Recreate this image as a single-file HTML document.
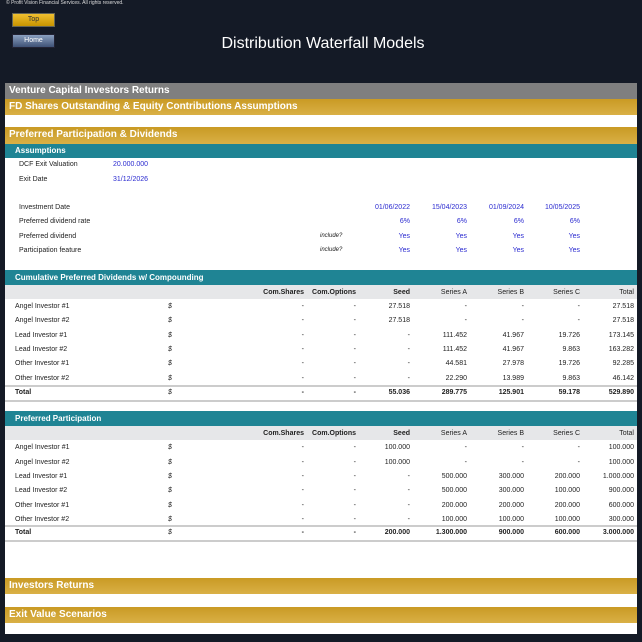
<!DOCTYPE html>
<html><head><meta charset="utf-8"><style>
*{margin:0;padding:0;box-sizing:border-box}
body{width:642px;height:642px;background:#141a26;font-family:"Liberation Sans",sans-serif;position:relative;overflow:hidden}
.a{position:absolute;white-space:nowrap}
.panel{position:absolute;left:5px;top:83px;width:632px;height:551px;background:#fff}
.bar{position:absolute;left:5px;width:632px;color:#fff;font-weight:bold;padding-left:4px}
.gold{background:linear-gradient(#c99a24,#d9b046);font-size:10px;line-height:16px}
.teal{background:#1f8494;font-size:8px;padding-left:10px}
.t{font-size:7px;color:#222}
.b{color:#2a2ad0}
.r{text-align:right;width:60px}
.hdr{position:absolute;left:5px;width:632px;background:#e6e7e9}
</style></head><body>
<div class="a" style="left:6px;top:0;font-size:5px;color:#ddd">© Profit Vision Financial Services. All rights reserved.</div>
<div class="a" style="left:12px;top:13px;width:43px;height:14px;background:linear-gradient(#f0c030,#c89400);border:1px solid #665;color:#333;font-size:7px;text-align:center;line-height:12px">Top</div>
<div class="a" style="left:12px;top:34px;width:43px;height:14px;background:linear-gradient(#8aa0c0,#3f5276);border:1px solid #223;color:#fff;font-size:7px;text-align:center;line-height:12px">Home</div>
<div class="a" style="left:0;width:646px;top:35px;text-align:center;color:#fff;font-size:16px">Distribution Waterfall Models</div>
<div class="panel"></div>
<div class="bar" style="top:83px;height:16px;background:#7f7f7f;font-size:10px;line-height:16px">Venture Capital Investors Returns</div>
<div class="bar gold" style="top:99px;height:16px">FD Shares Outstanding &amp; Equity Contributions Assumptions</div>
<div class="bar gold" style="top:127px;height:17px">Preferred Participation &amp; Dividends</div>
<div class="bar teal" style="top:144px;height:14px;line-height:14px">Assumptions</div>
<div class="a t" style="left:19px;top:161px">DCF Exit Valuation</div><div class="a t b" style="left:113px;top:161px">20.000.000</div>
<div class="a t" style="left:19px;top:176px">Exit Date</div><div class="a t b" style="left:113px;top:176px">31/12/2026</div>
<div class="a t" style="left:19px;top:204px">Investment Date</div>
<div class="a t" style="left:19px;top:218px">Preferred dividend rate</div>
<div class="a t" style="left:19px;top:233px">Preferred dividend</div>
<div class="a t" style="left:19px;top:247px">Participation feature</div>
<div class="a t" style="left:320px;top:233px;font-style:italic;font-size:6px">include?</div>
<div class="a t" style="left:320px;top:247px;font-style:italic;font-size:6px">include?</div>
<div class="bar teal" style="top:270px;height:15px;line-height:15px">Cumulative Preferred Dividends w/ Compounding</div>
<div class="hdr" style="top:285px;height:14px"></div>
<div class="bar teal" style="top:411px;height:15px;line-height:15px">Preferred Participation</div>
<div class="hdr" style="top:426px;height:14px"></div>
<div class="bar gold" style="top:578px;height:16px">Investors Returns</div>
<div class="bar gold" style="top:607px;height:16px">Exit Value Scenarios</div>
<div id="g"></div>
<script>
var h='';
function R(x,y,s,ex){h+='<div class="a t r" style="left:'+(x-60)+'px;top:'+y+'px;'+(ex||'')+'">'+s+'</div>';}
function L(x,y,s,ex){h+='<div class="a t" style="left:'+x+'px;top:'+y+'px;'+(ex||'')+'">'+s+'</div>';}
var dc=[410,467,524,580];
var d=['01/06/2022','15/04/2023','01/09/2024','10/05/2025'];
dc.forEach(function(x,i){R(x,204,d[i],'color:#2a2ad0');R(x,218,'6%','color:#2a2ad0');R(x,233,'Yes','color:#2a2ad0');R(x,247,'Yes','color:#2a2ad0');});
var cols=[304,356,410,467,524,580,634];
var hd=['Com.Shares','Com.Options','Seed','Series A','Series B','Series C','Total'];
function table(hy,ys,rows,ty){
 hd.forEach(function(s,i){R(cols[i],hy,s,i<3?'font-weight:bold':'');});
 var names=['Angel Investor #1','Angel Investor #2','Lead Investor #1','Lead Investor #2','Other Investor #1','Other Investor #2','Total'];
 rows.forEach(function(r,j){var y=ys[j];var tb=j==6?'font-weight:bold;':'';
  L(15,y,names[j],tb);L(168,y,'$','font-style:italic');
  r.forEach(function(v,i){R(cols[i],y,v,tb);});});
 h+='<div class="a" style="left:5px;width:632px;top:'+(ty-1)+'px;height:2px;background:#ccc"></div>';
 h+='<div class="a" style="left:5px;width:632px;top:'+(ty+14)+'px;height:2px;background:#ccc"></div>';
}
var r1=[['-','-','27.518','-','-','-','27.518'],['-','-','27.518','-','-','-','27.518'],['-','-','-','111.452','41.967','19.726','173.145'],['-','-','-','111.452','41.967','9.863','163.282'],['-','-','-','44.581','27.978','19.726','92.285'],['-','-','-','22.290','13.989','9.863','46.142'],['-','-','55.036','289.775','125.901','59.178','529.890']];
table(289,[303,317,332,346,360,375,389],r1,386);
var r2=[['-','-','100.000','-','-','-','100.000'],['-','-','100.000','-','-','-','100.000'],['-','-','-','500.000','300.000','200.000','1.000.000'],['-','-','-','500.000','300.000','100.000','900.000'],['-','-','-','200.000','200.000','200.000','600.000'],['-','-','-','100.000','100.000','100.000','300.000'],['-','-','200.000','1.300.000','900.000','600.000','3.000.000']];
table(430,[444,459,473,487,502,516,529],r2,526);
document.getElementById('g').innerHTML=h;
</script>
</body></html>
